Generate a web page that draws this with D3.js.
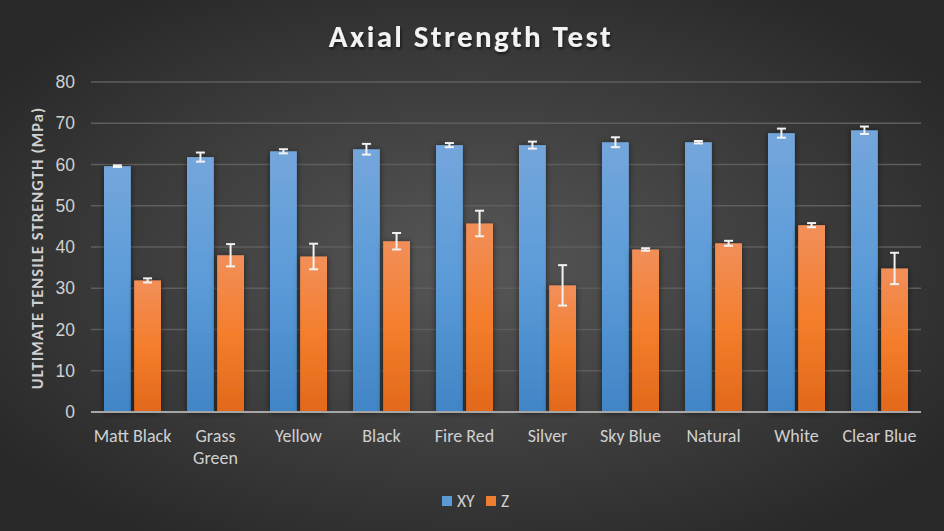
<!DOCTYPE html>
<html>
<head>
<meta charset="utf-8">
<script src="https://cdn.jsdelivr.net/npm/d3@7"></script>
<style>
  html, body { margin: 0; padding: 0; background: #2b2b2b; }
  svg { display: block; font-family: Carlito, Lato, "Open Sans", sans-serif; }
</style>
</head>
<body>
<svg id="chart" width="944" height="531"></svg>
<script>
// data
const categories = ["Matt Black", "Grass Green", "Yellow", "Black", "Fire Red",
  "Silver", "Sky Blue", "Natural", "White", "Clear Blue"];
const xyValues = [59.6, 61.8, 63.2, 63.7, 64.7, 64.7, 65.4, 65.4, 67.6, 68.3];
const xyErrors = [0.2, 1.1, 0.5, 1.3, 0.5, 0.85, 1.2, 0.3, 1.1, 0.9];
const zValues = [31.9, 38.0, 37.7, 41.4, 45.7, 30.7, 39.4, 40.9, 45.3, 34.8];
const zErrors = [0.5, 2.7, 3.1, 2.0, 3.1, 4.9, 0.3, 0.6, 0.5, 3.8];
const yTicks = [0, 10, 20, 30, 40, 50, 60, 70, 80];
const seriesNames = ["XY", "Z"];

const svg = d3.select("#chart"),
  width = +svg.attr("width"),
  height = +svg.attr("height");

const margin = { top: 82, right: 23, bottom: 119, left: 91 };
const innerW = width - margin.left - margin.right,
  innerH = height - margin.top - margin.bottom;

const defs = svg.append("defs");

// background
const bg = defs.append("radialGradient").attr("id", "bg")
  .attr("cx", "50%").attr("cy", "50%").attr("r", "62%");
bg.append("stop").attr("offset", "0%").attr("stop-color", "#575757");
bg.append("stop").attr("offset", "100%").attr("stop-color", "#282828");
svg.append("rect").attr("width", width).attr("height", height).attr("fill", "url(#bg)");

// bar gradients
const blue = defs.append("linearGradient").attr("id", "blue").attr("x1", 0).attr("y1", 0).attr("x2", 0).attr("y2", 1);
blue.append("stop").attr("offset", "0%").attr("stop-color", "#74a6db");
blue.append("stop").attr("offset", "50%").attr("stop-color", "#5b9bd8");
blue.append("stop").attr("offset", "100%").attr("stop-color", "#4185c6");
const orange = defs.append("linearGradient").attr("id", "orange").attr("x1", 0).attr("y1", 0).attr("x2", 0).attr("y2", 1);
orange.append("stop").attr("offset", "0%").attr("stop-color", "#f18f5a");
orange.append("stop").attr("offset", "50%").attr("stop-color", "#f47e2c");
orange.append("stop").attr("offset", "100%").attr("stop-color", "#e2681a");

const shadow = defs.append("filter").attr("id", "shadow")
  .attr("x", "-30%").attr("y", "-10%").attr("width", "160%").attr("height", "120%");
shadow.append("feDropShadow").attr("dx", 0).attr("dy", 1).attr("stdDeviation", 3)
  .attr("flood-color", "#000").attr("flood-opacity", 0.55);

const titleShadow = defs.append("filter").attr("id", "tshadow");
titleShadow.append("feDropShadow").attr("dx", 1).attr("dy", 2).attr("stdDeviation", 1.5)
  .attr("flood-color", "#000").attr("flood-opacity", 0.6);

const g = svg.append("g").attr("transform", `translate(${margin.left},${margin.top})`);

const x = d3.scaleBand().domain(categories).range([0, innerW]).paddingInner(0).paddingOuter(0);
const x1 = d3.scaleBand().domain(seriesNames).range([13, x.bandwidth() - 13]).paddingInner(0.11);
const y = d3.scaleLinear().domain([0, 80]).range([innerH, 0]);

// gridlines
g.append("g").selectAll("line").data(yTicks.filter(d => d > 0)).join("line")
  .attr("x1", 0).attr("x2", innerW)
  .attr("y1", d => y(d)).attr("y2", d => y(d))
  .attr("stroke", "#5e5e5e").attr("stroke-width", 1.5);

// y tick labels
const yAxis = g.append("g").call(d3.axisLeft(y).tickValues(yTicks).tickSize(0).tickPadding(16));
yAxis.select(".domain").remove();
yAxis.selectAll("text").attr("fill", "#d0d0d0").attr("font-size", 17.5);

const rows = categories.map((c, i) => ({
  cat: c,
  vals: [
    { s: "XY", v: xyValues[i], e: xyErrors[i] },
    { s: "Z", v: zValues[i], e: zErrors[i] },
  ],
}));

const groups = g.append("g").selectAll("g").data(rows).join("g")
  .attr("transform", d => `translate(${x(d.cat)},0)`);

groups.selectAll("rect").data(d => d.vals).join("rect")
  .attr("x", d => x1(d.s))
  .attr("width", x1.bandwidth())
  .attr("y", d => y(d.v))
  .attr("height", d => y(0) - y(d.v))
  .attr("fill", d => d.s === "XY" ? "url(#blue)" : "url(#orange)")
  .attr("filter", "url(#shadow)");

// error bars
const err = groups.selectAll("g.err").data(d => d.vals).join("g").attr("class", "err")
  .attr("stroke", "#f2f2f2").attr("stroke-width", 2).attr("fill", "none");
err.append("line")
  .attr("x1", d => x1(d.s) + x1.bandwidth() / 2).attr("x2", d => x1(d.s) + x1.bandwidth() / 2)
  .attr("y1", d => y(d.v + d.e)).attr("y2", d => y(d.v - d.e));
err.append("line")
  .attr("x1", d => x1(d.s) + x1.bandwidth() / 2 - 4.5).attr("x2", d => x1(d.s) + x1.bandwidth() / 2 + 4.5)
  .attr("y1", d => y(d.v + d.e)).attr("y2", d => y(d.v + d.e));
err.append("line")
  .attr("x1", d => x1(d.s) + x1.bandwidth() / 2 - 4.5).attr("x2", d => x1(d.s) + x1.bandwidth() / 2 + 4.5)
  .attr("y1", d => y(d.v - d.e)).attr("y2", d => y(d.v - d.e));

// baseline
g.append("line").attr("x1", 0).attr("x2", innerW).attr("y1", y(0)).attr("y2", y(0))
  .attr("stroke", "#a6a6a6").attr("stroke-width", 2);

// x labels (wrap the long ones)
const xl = g.append("g").selectAll("text").data(categories).join("text")
  .attr("x", d => x(d) + x.bandwidth() / 2)
  .attr("y", innerH + 30)
  .attr("text-anchor", "middle")
  .attr("fill", "#d0d0d0")
  .attr("font-size", 18);
xl.each(function (d) {
  const t = d3.select(this);
  if (d === "Grass Green") {
    d.split(" ").forEach((w, i) => {
      t.append("tspan").attr("x", x(d) + x.bandwidth() / 2).attr("dy", i ? 22 : 0).text(w);
    });
  } else {
    t.text(d);
  }
});

// title
svg.append("text").attr("x", 471).attr("y", 47).attr("text-anchor", "middle")
  .attr("fill", "#f2f2f2").attr("font-size", 31).attr("font-weight", "bold")
  .attr("letter-spacing", 2.4).attr("filter", "url(#tshadow)")
  .text("Axial Strength Test");

// y axis title
svg.append("text").attr("transform", "translate(43,248) rotate(-90)")
  .attr("text-anchor", "middle").attr("fill", "#d0d0d0")
  .attr("font-size", 16.5).attr("font-weight", "bold").attr("letter-spacing", 1.1)
  .text("ULTIMATE TENSILE STRENGTH (MPa)");

// legend
const legend = svg.append("g").attr("transform", "translate(442,496)");
const li = legend.selectAll("g").data(seriesNames).join("g")
  .attr("transform", (d, i) => `translate(${i * 44},0)`);
li.append("rect").attr("width", 10).attr("height", 10)
  .attr("fill", d => d === "XY" ? "#5b9bd5" : "#ed7d31");
li.append("text").attr("x", 15).attr("y", 11).attr("fill", "#d0d0d0").attr("font-size", 17.5)
  .text(d => d);
</script>
</body>
</html>
